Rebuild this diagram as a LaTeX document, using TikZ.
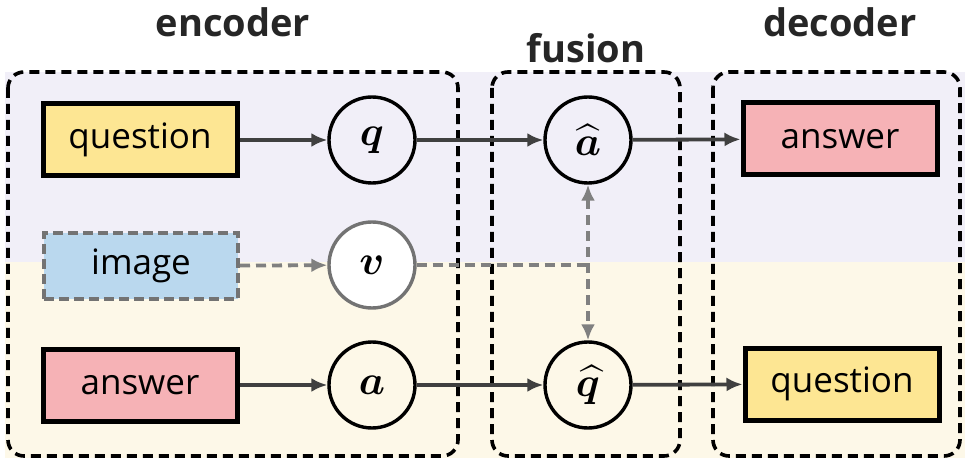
\documentclass[tikz,border=0pt]{standalone}
\usepackage{amsmath,bm}
\usepackage{fontspec}
\setmainfont{Open Sans}
\usetikzlibrary{arrows.meta}
\begin{document}
\begin{tikzpicture}[x=0.5pt,y=-0.5pt,
  box/.style={draw=black,line width=2.5pt,minimum width=97pt,minimum height=36pt,font=\fontsize{17.5}{20}\selectfont},
  circ/.style={draw=black,circle,line width=1.7pt,minimum size=43pt,inner sep=0pt,font=\fontsize{21}{22}\selectfont},
  grp/.style={draw=black,line width=1.8pt,rounded corners=8pt,dash pattern=on 5pt off 3pt},
  arr/.style={-{Latex[length=8pt,width=7pt]},line width=1.9pt,draw=black!75},
  darr/.style={arr,draw=black!50,dash pattern=on 5pt off 3pt},
  ttl/.style={font=\bfseries\fontsize{19}{22}\selectfont,text=black!85}]
\useasboundingbox (0,0) rectangle (976,465);
\definecolor{lav}{RGB}{241,239,248}\definecolor{crm}{RGB}{253,248,232}
\fill[lav] (5,72) rectangle (965,262);
\fill[crm] (5,262) rectangle (965,458);
\definecolor{yel}{RGB}{253,230,147}\definecolor{pnk}{RGB}{246,178,182}\definecolor{blu}{RGB}{186,216,238}
\draw[grp] (8,72) rectangle (458,456);
\draw[grp] (492,72) rectangle (680,456);
\draw[grp] (713,72) rectangle (960,456);
\node[ttl] (t1) at (233,22) {encoder};
\node[ttl] (t2) at (586,48) {fusion};
\node[ttl] (t3) at (840,22) {decoder};
\node[box,fill=yel] (q1) at (140,140) {question};
\node[box,fill=blu,draw=black!55,dash pattern=on 5pt off 2.5pt,line width=2pt,minimum height=33pt] (im) at (141,266) {image};
\node[box,fill=pnk] (a1) at (140,385) {answer};
\node[box,fill=pnk] (a2) at (840,139) {answer};
\node[box,fill=yel] (q2) at (842,384) {question};
\node[circ] (q) at (372,140) {$\bm{q}$};
\node[circ,draw=black!55,fill=white] (v) at (372,265) {$\bm{v}$};
\node[circ] (a) at (372,385) {$\bm{a}$};
\node[circ] (ah) at (588,140) {$\widehat{\bm{a}}$};
\node[circ] (qh) at (588,385) {$\widehat{\bm{q}}$};
\coordinate (j) at (588,265);
\draw[arr] (q1) -- (q);
\draw[arr] (q) -- (ah);
\draw[arr] (ah) -- (a2);
\draw[arr] (a1) -- (a);
\draw[arr] (a) -- (qh);
\draw[arr] (qh) -- (q2);
\draw[darr] (im) -- (v);
\draw[line width=1.9pt,draw=black!50,dash pattern=on 5pt off 3pt] (v) -- (j);
\draw[darr,{Latex[length=8pt,width=7pt]}-{Latex[length=8pt,width=7pt]}] (ah) -- (qh);
\end{tikzpicture}
\end{document}
